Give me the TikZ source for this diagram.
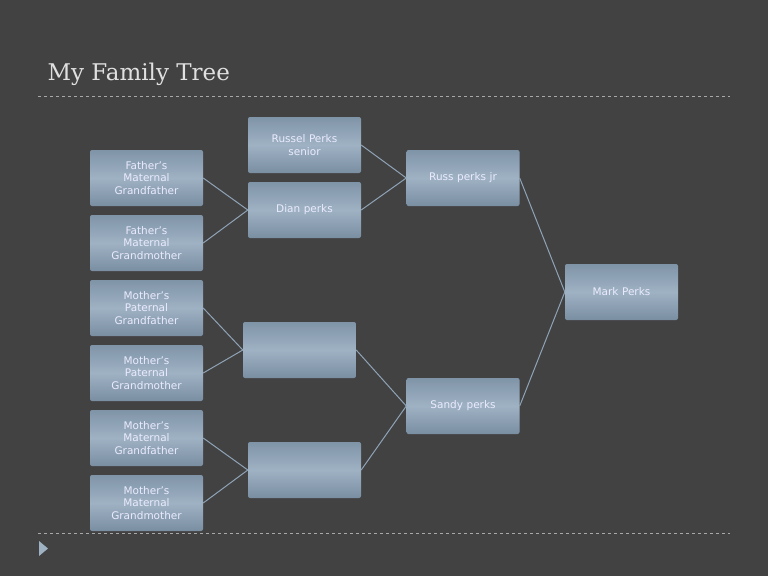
\documentclass[tikz,border=0pt]{standalone}
\usepackage{fontspec}
\setmainfont{DejaVu Sans}
\newfontfamily\titlefont{DejaVu Serif}
\begin{document}
\begin{tikzpicture}[x=1pt,y=-1pt,
  pbox/.style={draw=none,rounded corners=2pt,minimum width=113pt,minimum height=56pt,
    inner sep=1pt,text width=111pt,align=center,text=white!92!blue,
    font=\fontsize{10.5}{12.5}\selectfont,
    top color=boxtop,bottom color=boxbot,middle color=boxmid},
  link/.style={draw=linkc,line width=1pt}]
\definecolor{bg}{HTML}{424242}
\definecolor{boxtop}{HTML}{8094A8}
\definecolor{boxmid}{HTML}{9FB2C4}
\definecolor{boxbot}{HTML}{7A8EA2}
\definecolor{linkc}{HTML}{8FA3B6}
\definecolor{dashc}{HTML}{A8A8A8}
\fill[bg] (0,0) rectangle (768,576);
\node[anchor=west,text=white!88!black,font=\titlefont\fontsize{23}{26}\selectfont] (title) at (44,74) {My Family Tree};
\draw[dashc,dashed,line width=0.7pt] (38,96) -- (730,96);
\draw[dashc,dashed,line width=0.7pt] (38,533) -- (730,533);
\fill[boxmid] (39,541) -- (48,548.5) -- (39,556) -- cycle;
\node[pbox] (fmgf) at (146.5,178) {Father's\\Maternal\\Grandfather};
\node[pbox] (fmgm) at (146.5,243) {Father's\\Maternal\\Grandmother};
\node[pbox] (mpgf) at (146.5,308) {Mother's\\Paternal\\Grandfather};
\node[pbox] (mpgm) at (146.5,373) {Mother's\\Paternal\\Grandmother};
\node[pbox] (mmgf) at (146.5,438) {Mother's\\Maternal\\Grandfather};
\node[pbox] (mmgm) at (146.5,503) {Mother's\\Maternal\\Grandmother};
\node[pbox] (rps) at (304.5,145) {Russel Perks\\senior};
\node[pbox] (dian) at (304.5,210) {Dian perks};
\node[pbox] (b1) at (299.5,350) {};
\node[pbox] (b2) at (304.5,470) {};
\node[pbox] (rjr) at (463,178) {Russ perks jr};
\node[pbox] (sandy) at (463,406) {Sandy perks};
\node[pbox] (mark) at (621.5,292) {Mark Perks};
\draw[link] (fmgf.east) -- (dian.west);
\draw[link] (fmgm.east) -- (dian.west);
\draw[link] (mpgf.east) -- (b1.west);
\draw[link] (mpgm.east) -- (b1.west);
\draw[link] (mmgf.east) -- (b2.west);
\draw[link] (mmgm.east) -- (b2.west);
\draw[link] (rps.east) -- (rjr.west);
\draw[link] (dian.east) -- (rjr.west);
\draw[link] (b1.east) -- (sandy.west);
\draw[link] (b2.east) -- (sandy.west);
\draw[link] (rjr.east) -- (mark.west);
\draw[link] (sandy.east) -- (mark.west);
\end{tikzpicture}
\end{document}
